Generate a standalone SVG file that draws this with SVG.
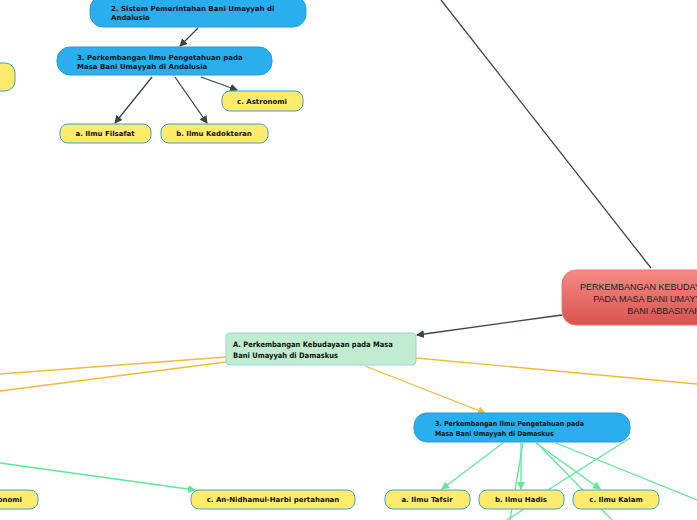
<svg xmlns="http://www.w3.org/2000/svg" width="697" height="520" viewBox="0 0 697 520">
<style>
.t{font-family:"DejaVu Sans",Verdana,sans-serif;font-size:7px;font-weight:bold;fill:#111}
.c{text-anchor:middle}
.blue{fill:#29aeee;stroke:#2a9ad8;stroke-width:1}
.yel{fill:#ffec6c;stroke:#3aa0d8;stroke-width:1}
.dk{stroke:#3b4540;stroke-width:1.3;fill:none}
.or{stroke:#f0bc38;stroke-width:1.3;fill:none}
.gr{stroke:#5ee898;stroke-width:1.3;fill:none}
</style>
<defs>
<linearGradient id="rg" x1="0" y1="0" x2="0" y2="1"><stop offset="0" stop-color="#f58a85"/><stop offset="1" stop-color="#d9534d"/></linearGradient>
<marker id="ad" markerWidth="8" markerHeight="8" refX="7" refY="4" orient="auto" markerUnits="userSpaceOnUse"><path d="M0,0 L8,4 L0,8 z" fill="#3b4540"/></marker>
<marker id="ao" markerWidth="8" markerHeight="8" refX="7" refY="4" orient="auto" markerUnits="userSpaceOnUse"><path d="M0,0 L8,4 L0,8 z" fill="#f0bc38"/></marker>
<marker id="ag" markerWidth="8" markerHeight="8" refX="7" refY="4" orient="auto" markerUnits="userSpaceOnUse"><path d="M0,0 L8,4 L0,8 z" fill="#5ee898"/></marker>
</defs>
<rect width="697" height="520" fill="#fff"/>
<g id="connectors">
<line class="dk" x1="441" y1="0" x2="651" y2="268"/>
<line class="dk" x1="198" y1="28" x2="180" y2="46" marker-end="url(#ad)"/>
<line class="dk" x1="152" y1="77" x2="115" y2="123" marker-end="url(#ad)"/>
<line class="dk" x1="175" y1="77" x2="207" y2="123" marker-end="url(#ad)"/>
<line class="dk" x1="201" y1="77" x2="237" y2="90" marker-end="url(#ad)"/>
<line class="dk" x1="562" y1="315" x2="417" y2="335" marker-end="url(#ad)"/>
<line class="or" x1="226" y1="357" x2="0" y2="374"/>
<line class="or" x1="226" y1="362" x2="0" y2="391"/>
<line class="or" x1="416" y1="358" x2="697" y2="384"/>
<line class="or" x1="365" y1="366" x2="485" y2="413" marker-end="url(#ao)"/>
<line class="gr" x1="503" y1="443" x2="442" y2="489" marker-end="url(#ag)"/>
<line class="gr" x1="521" y1="443" x2="521" y2="489" marker-end="url(#ag)"/>
<line class="gr" x1="523" y1="443" x2="510" y2="520"/>
<line class="gr" x1="536" y1="443" x2="600" y2="489" marker-end="url(#ag)"/>
<line class="gr" x1="537" y1="443" x2="612" y2="520"/>
<line class="gr" x1="556" y1="443" x2="697" y2="500"/>
<line class="gr" x1="630" y1="438" x2="548" y2="490"/>
<line class="gr" x1="0" y1="463" x2="195" y2="490" marker-end="url(#ag)"/>
<line class="gr" x1="524" y1="509" x2="507" y2="520"/>
</g>
<g id="n-sistem"><rect class="blue" x="90" y="-4" width="216" height="31" rx="13"/><text class="t" x="111" y="11">2. Sistem Pemerintahan Bani Umayyah di</text><text class="t" x="111" y="20">Andalusia</text></g>
<g id="n-ilmu-andalusia"><rect class="blue" x="57" y="47" width="215" height="28" rx="13"/><text class="t" x="77" y="60">3. Perkembangan Ilmu Pengetahuan pada</text><text class="t" x="77" y="69">Masa Bani Umayyah di Andalusia</text></g>
<g id="n-left-partial"><rect class="yel" x="-40" y="63" width="55" height="28" rx="10"/></g>
<g id="n-astronomi"><rect class="yel" x="222" y="91" width="81" height="20" rx="8"/><text class="t c" x="262" y="104">c. Astronomi</text></g>
<g id="n-filsafat"><rect class="yel" x="60" y="124" width="91" height="19" rx="8"/><text class="t c" x="105" y="136">a. Ilmu Filsafat</text></g>
<g id="n-kedokteran"><rect class="yel" x="161" y="124" width="107" height="19" rx="8"/><text class="t c" x="214" y="136">b. Ilmu Kedokteran</text></g>
<g id="n-root"><rect x="562" y="270" width="160" height="55" rx="14" fill="url(#rg)" stroke="#e77" stroke-width="1"/>
<text font-family="Liberation Sans,Arial,sans-serif" font-size="9" fill="#222" text-anchor="middle"><tspan x="664" y="290">PERKEMBANGAN KEBUDAYAAN ISLAM</tspan><tspan x="664" y="302">PADA MASA BANI UMAYYAH DAN</tspan><tspan x="664" y="314">BANI ABBASIYAH</tspan></text></g>
<g id="n-A"><rect x="226" y="333" width="190" height="32" rx="4" fill="#c0ecd0" stroke="#9cd0e0"/><text class="t" x="233" y="347" style="font-family:'Liberation Sans Narrow','DejaVu Sans Condensed',sans-serif;font-size:7.5px">A. Perkembangan Kebudayaan pada Masa</text><text class="t" x="233" y="358" style="font-family:'Liberation Sans Narrow','DejaVu Sans Condensed',sans-serif;font-size:7.5px">Bani Umayyah di Damaskus</text></g>
<g id="n-ilmu-damaskus"><rect class="blue" x="414" y="413" width="216" height="29" rx="13"/><text class="t" x="435" y="426" style="font-family:'DejaVu Sans Condensed',sans-serif">3. Perkembangan Ilmu Pengetahuan pada</text><text class="t" x="435" y="436" style="font-family:'DejaVu Sans Condensed',sans-serif">Masa Bani Umayyah di Damaskus</text></g>
<g id="n-ekonomi"><rect class="yel" x="-60" y="490" width="98" height="19" rx="8"/><text class="t" x="22" y="502" text-anchor="end">c. Ekonomi</text></g>
<g id="n-harbi"><rect class="yel" x="191" y="490" width="164" height="19" rx="8"/><text class="t c" x="273" y="502">c. An-Nidhamul-Harbi pertahanan</text></g>
<g id="n-tafsir"><rect class="yel" x="385" y="490" width="85" height="19" rx="8"/><text class="t c" x="427" y="502">a. Ilmu Tafsir</text></g>
<g id="n-hadis"><rect class="yel" x="479" y="490" width="85" height="19" rx="8"/><text class="t c" x="521" y="502">b. Ilmu Hadis</text></g>
<g id="n-kalam"><rect class="yel" x="573" y="490" width="86" height="19" rx="8"/><text class="t c" x="616" y="502">c. Ilmu Kalam</text></g>
</svg>
